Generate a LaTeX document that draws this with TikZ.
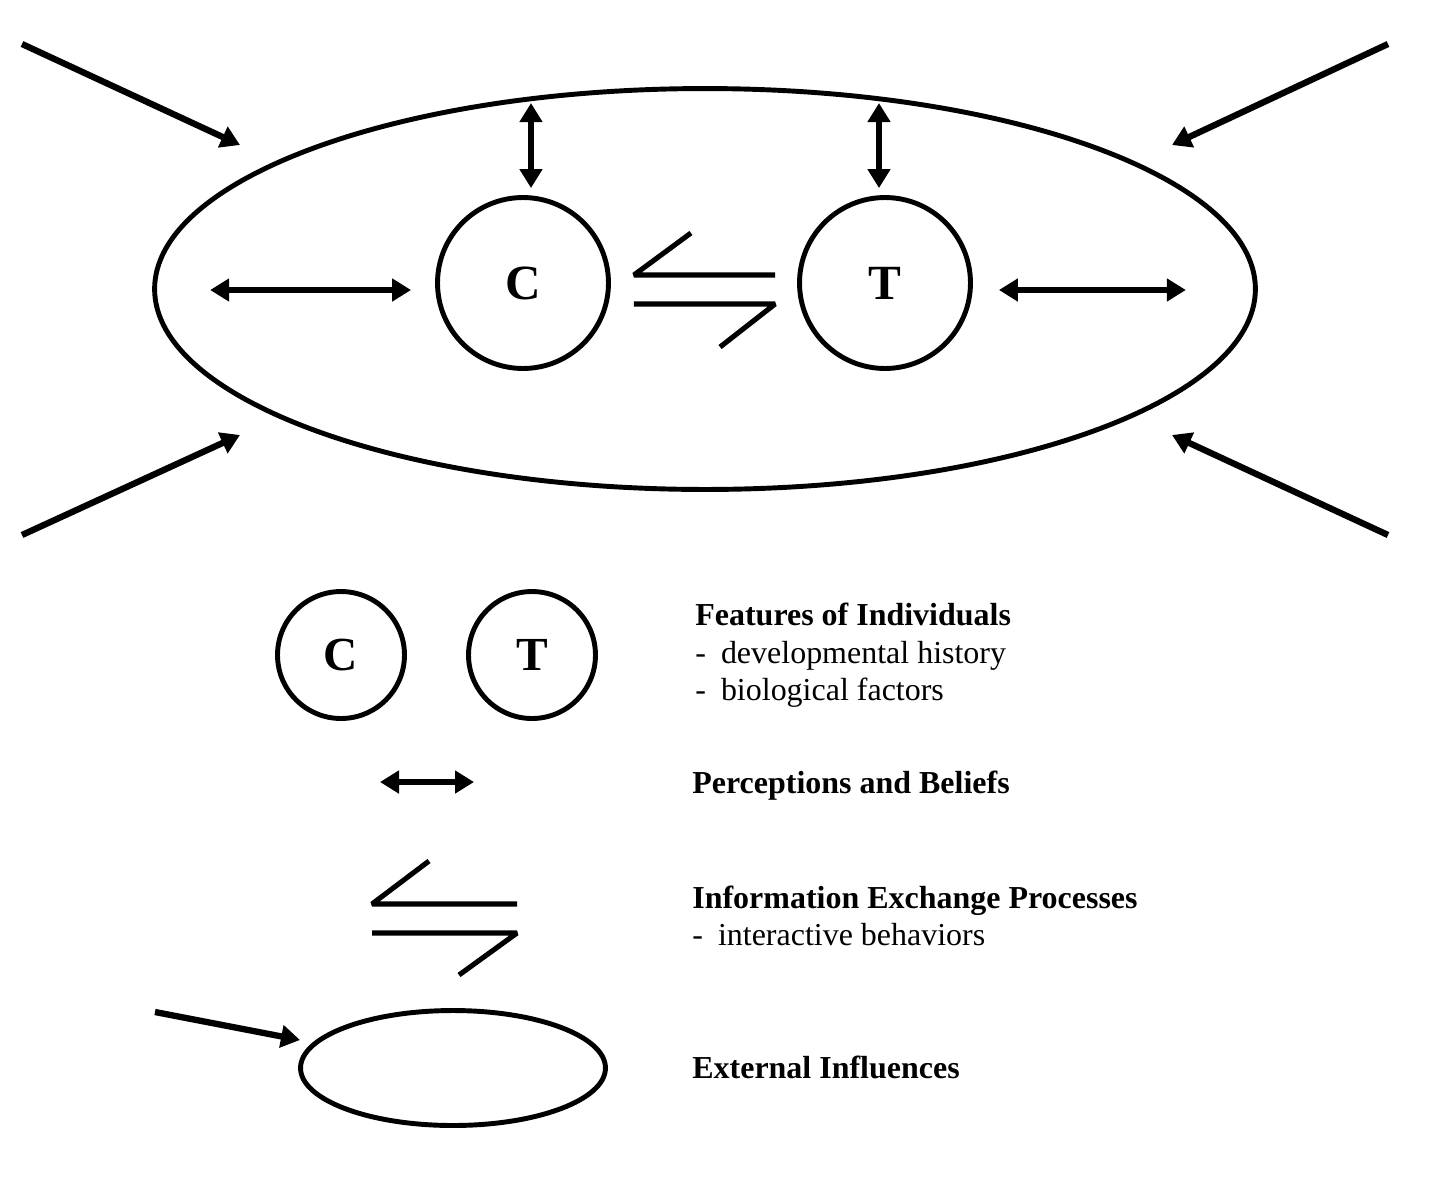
\documentclass[tikz,border=0pt]{standalone}
\usepackage{fontspec}
\setmainfont{Liberation Serif}
\usetikzlibrary{arrows.meta, shapes.geometric, positioning, calc}

\begin{document}
\begin{tikzpicture}[
    x=0.02cm, y=-0.02cm,
    base/.style={draw, line width=2.8pt, inner sep=0pt},
    person/.style={base, circle, minimum size=3.42cm, font=\fontsize{28}{30}\selectfont\bfseries},
    smallperson/.style={base, circle, minimum size=2.54cm, font=\fontsize{27}{29}\selectfont\bfseries},
    context/.style={base, ellipse},
    arrow/.style={-{Triangle[length=0.38cm, width=0.44cm]}, line width=3.6pt},
    twoway/.style={{Triangle[length=0.38cm, width=0.44cm]}-{Triangle[length=0.38cm, width=0.44cm]}, line width=3.3pt},
    exch/.style={line width=2.9pt, line join=bevel},
    head/.style={anchor=base west, inner sep=0pt, font=\fontsize{18.2}{21}\selectfont\bfseries},
    item/.style={anchor=base west, inner sep=0pt, font=\fontsize{18.2}{21}\selectfont}
]
    \useasboundingbox (0,0) rectangle (1440,1201);

    % Main model
    \node [context, minimum width=22.02cm, minimum height=8.02cm] (ctx) at (705,289) {};
    \node [person] (C) at (523,283) {C};
    \node [person] (T) at (885,283) {T};

    % Outside influences
    \coordinate (nw) at (22,44);
    \coordinate (ne) at (1388,44);
    \coordinate (sw) at (22,535);
    \coordinate (se) at (1388,535);
    \draw [arrow] (nw) -- ($(ctx.center)+(-465,-144)$);
    \draw [arrow] (ne) -- ($(ctx.center)+(467,-144)$);
    \draw [arrow] (sw) -- ($(ctx.center)+(-465,146)$);
    \draw [arrow] (se) -- ($(ctx.center)+(467,146)$);

    % Perceptions and beliefs
    \draw [twoway] ($(C.north)+(8,-92)$) -- ($(C.north)+(8,-7)$);
    \draw [twoway] ($(T.north)+(-6,-92)$) -- ($(T.north)+(-6,-7)$);
    \draw [twoway] ($(ctx.west)+(58,1)$) -- ($(C.west)+(-24,7)$);
    \draw [twoway] ($(T.east)+(26,7)$) -- ($(ctx.east)+(-72,1)$);

    % Information exchange
    \draw [exch] ($(C.east)+(80,-50)$) -- ($(C.east)+(23,-8)$) -- ($(T.west)+(-22,-8)$);
    \draw [exch] ($(C.east)+(23,21)$) -- ($(T.west)+(-22,21)$) -- ($(T.west)+(-77,64)$);

    % Legend
    \node [smallperson] (lc) at (341,655) {C};
    \node [smallperson] (lt) at (532,655) {T};
    \node [head] (feat) at (695,625) {Features of Individuals};
    \node [item] (hist) at (695,663) {-\hspace{0.3cm}developmental history};
    \node [item] (bio) at (695,700) {-\hspace{0.3cm}biological factors};

    \draw [twoway] (380,782) -- (474,782);
    \node [head] (perc) at (692,793) {Perceptions and Beliefs};

    \draw [exch] (429,861) -- (372,904) -- (517,904);
    \draw [exch] (372,933) -- (517,933) -- (459,975);
    \node [head] (info) at (692,908) {Information Exchange Processes};
    \node [item] (beh) at (692,945) {-\hspace{0.3cm}interactive behaviors};

    \node [context, minimum width=6.1cm, minimum height=2.3cm] (lctx) at (453,1068) {};
    \coordinate (lin) at (155,1012);
    \draw [arrow] (lin) -- ($(lctx.center)+(-153,-28)$);
    \node [head] (ext) at (692,1078) {External Influences};

\end{tikzpicture}
\end{document}
